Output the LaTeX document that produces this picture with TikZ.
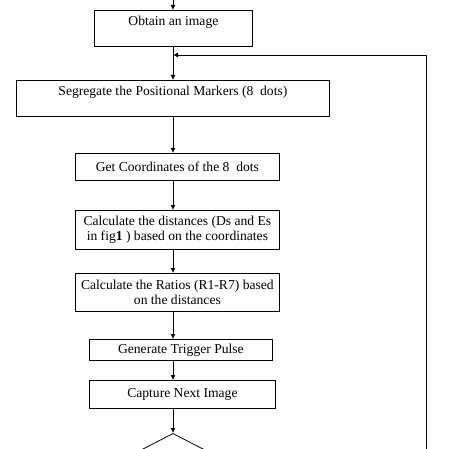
\documentclass[tikz,border=0pt]{standalone}
\usepackage{fontspec}
\setmainfont{Liberation Serif}
\usetikzlibrary{arrows.meta,shapes.geometric}
\begin{document}
\begin{tikzpicture}[x=1pt,y=-1pt,
  box/.style={draw,line width=0.8pt,inner sep=0pt,align=center,font=\fontsize{13.6}{15}\selectfont},
  txt/.style={inner sep=0pt,align=center,font=\fontsize{13.6}{15}\selectfont},
  arr/.style={draw,line width=0.8pt,-{Latex[length=5pt,width=5pt]}}]
\useasboundingbox (0,0) rectangle (449,449);
\clip (0,0) rectangle (449,449);
\node[box,minimum width=158pt,minimum height=36pt,anchor=north west] (obt) at (94,10) {};
\node[txt] (obtt) at ([yshift=-12pt]obt.north) {Obtain an image};
\node[box,minimum width=313pt,minimum height=36pt,anchor=north west] (seg) at (16,80) {};
\node[txt] (segt) at ([yshift=-12pt]seg.north) {Segregate the Positional Markers (8~ dots)};
\node[box,minimum width=204pt,minimum height=27pt,anchor=north west] (get) at (75,153) {Get Coordinates of the 8~ dots};
\node[box,minimum width=204pt,minimum height=39pt,anchor=north west] (dist) at (75,210) {Calculate the distances (Ds and Es\\in fig\textbf{1} ) based on the coordinates};
\node[box,minimum width=204pt,minimum height=38pt,anchor=north west] (rat) at (75,273) {Calculate the Ratios (R1-R7) based\\on the distances};
\node[box,minimum width=183pt,minimum height=21pt,anchor=north west] (trig) at (89,339) {Generate Trigger Pulse};
\node[box,minimum width=186pt,minimum height=28pt,anchor=north west] (cap) at (89,380) {Capture Next Image};
\node[draw,line width=0.8pt,shape=diamond,minimum width=124pt,minimum height=64pt,inner sep=0pt,anchor=north] (dec) at (173,433) {};
\coordinate (start) at (173,-2);
\coordinate (rt) at (426,455);
\coordinate (rtop) at (426,55);
\coordinate (join) at (173,55);
\draw[arr] (start) -- (obt.north -| start);
\draw[arr] (obt.south -| start) -- (seg.north -| start);
\draw[arr] (seg.south -| start) -- (get.north -| start);
\draw[arr] (get.south -| start) -- (dist.north -| start);
\draw[arr] (dist.south -| start) -- (rat.north -| start);
\draw[arr] (rat.south -| start) -- (trig.north -| start);
\draw[arr] (trig.south -| start) -- (cap.north -| start);
\draw[arr] (cap.south -| start) -- (dec.north);
\draw[arr] (rt) -- (rtop) -- (join);
\end{tikzpicture}
\end{document}
